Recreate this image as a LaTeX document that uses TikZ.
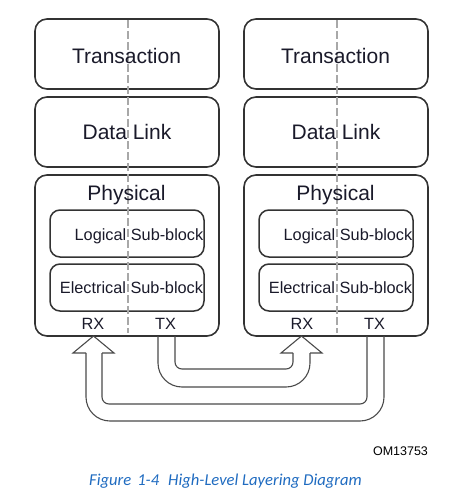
\documentclass[tikz,border=0pt]{standalone}
\usepackage{fontspec}
\setmainfont{Liberation Sans}
\newfontfamily\capfont{Carlito}
\definecolor{boxline}{HTML}{333333}
\definecolor{arrline}{HTML}{4A4A4A}
\definecolor{dashgray}{HTML}{A8A8A8}
\definecolor{txtcol}{HTML}{1A1A2A}
\definecolor{capblue}{HTML}{1F6BC0}
\begin{document}
\begin{tikzpicture}[x=1pt,y=-1pt,
  layerbox/.style={draw=boxline,line width=1.6pt,rounded corners=12pt,inner sep=0pt},
  subbox/.style={draw=boxline,line width=1.5pt,rounded corners=10pt,inner sep=0pt},
  bigtxt/.style={anchor=base,inner sep=0pt,text=txtcol,font=\fontsize{21}{24}\selectfont},
  midtxt/.style={anchor=base,inner sep=0pt,text=txtcol,font=\fontsize{16.3}{19}\selectfont},
  divider/.style={draw=dashgray,line width=1.8pt,dash pattern=on 8pt off 3pt},
  hollow/.style={draw=arrline,line width=1.1pt,line join=miter}]
\useasboundingbox (0,0) rectangle (456,503);

% ---------- left stack ----------
\node[layerbox,minimum width=184pt,minimum height=70pt] (transL) at (127,54) {};
\node[layerbox,minimum width=184pt,minimum height=70pt] (dlL) at (127,132) {};
\node[layerbox,minimum width=184pt,minimum height=161pt] (phyL) at (127,255.5) {};
\node[subbox,minimum width=154pt,minimum height=47pt] (logL) at (127,233.5) {};
\node[subbox,minimum width=154pt,minimum height=47pt] (eleL) at (127,287.5) {};
\coordinate (dtopL) at (128,20);
\coordinate (dbotL) at (128,333);
\draw[divider] (dtopL) -- (dbotL);
\node[bigtxt] (tTransL) at (126.5,63.3) {Transaction};
\node[bigtxt] (tDlL) at (127,139.3) {Data Link};
\node[bigtxt] (tPhyL) at (126.5,200) {Physical};
\node[midtxt] (tLogL) at (139,240.7) {Logical Sub-block};
\node[midtxt] (tEleL) at (131.5,293.3) {Electrical Sub-block};
\node[midtxt] (rxL) at (93,329.3) {RX};
\node[midtxt] (txL) at (165.5,329.3) {TX};

% ---------- right stack ----------
\node[layerbox,minimum width=184pt,minimum height=70pt] (transR) at (336,54) {};
\node[layerbox,minimum width=184pt,minimum height=70pt] (dlR) at (336,132) {};
\node[layerbox,minimum width=184pt,minimum height=161pt] (phyR) at (336,255.5) {};
\node[subbox,minimum width=154pt,minimum height=47pt] (logR) at (336,233.5) {};
\node[subbox,minimum width=154pt,minimum height=47pt] (eleR) at (336,287.5) {};
\coordinate (dtopR) at (337,20);
\coordinate (dbotR) at (337,333);
\draw[divider] (dtopR) -- (dbotR);
\node[bigtxt] (tTransR) at (335.5,63.3) {Transaction};
\node[bigtxt] (tDlR) at (336,139.3) {Data Link};
\node[bigtxt] (tPhyR) at (335.5,200) {Physical};
\node[midtxt] (tLogR) at (348,240.7) {Logical Sub-block};
\node[midtxt] (tEleR) at (340.5,293.3) {Electrical Sub-block};
\node[midtxt] (rxR) at (302,329.3) {RX};
\node[midtxt] (txR) at (374.5,329.3) {TX};

% ---------- inner hollow arrow: TX (left) -> RX (right) ----------
\draw[hollow,rounded corners=24pt] (158,336) -- (158,387) -- (310,387) -- (310,353);
\draw[hollow] (310,353) -- (322,353) -- (301.5,336) -- (281,353) -- (293,353);
\draw[hollow,rounded corners=7pt] (293,353) -- (293,369) -- (175,369) -- (175,336);

% ---------- outer hollow arrow: TX (right) -> RX (left) ----------
\draw[hollow,rounded corners=24pt] (384,336) -- (384,421) -- (86,421) -- (86,353);
\draw[hollow] (86,353) -- (73,353) -- (93.5,336) -- (114,353) -- (102,353);
\draw[hollow,rounded corners=7pt] (102,353) -- (102,404) -- (367,404) -- (367,336);

% ---------- labels ----------
\node[anchor=base,inner sep=0pt,font=\fontsize{12.5}{14}\selectfont] (om) at (400.5,455) {OM13753};
\node[anchor=base west,inner sep=0pt,text=capblue,font=\capfont\itshape\fontsize{16.6}{19}\selectfont] (cap) at (89,485.7)
  {Figure\hspace{6pt}1-4\hspace{9pt}High-Level Layering Diagram};
\end{tikzpicture}
\end{document}
